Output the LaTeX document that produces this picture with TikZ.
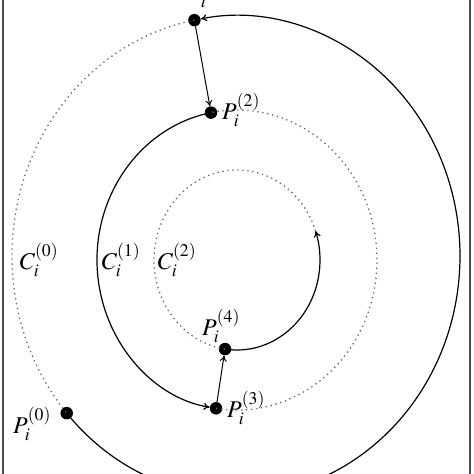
\documentclass[tikz,border=0pt]{standalone}
\usepackage{mathptmx}
\usetikzlibrary{arrows.meta}
\begin{document}
\begin{tikzpicture}[x=1pt,y=1pt,
  dot/.style={circle,fill=black,inner sep=0pt,minimum size=12.5pt},
  solidarc/.style={draw=black,line width=1.2pt},
  dotarc/.style={draw=black!60,line width=1.3pt,dash pattern=on 1.3pt off 3.7pt},
  arr/.style={-{To[length=6pt,width=7pt]}},
  lbl/.style={inner sep=0pt,font=\fontsize{24}{28}\selectfont},
  border/.style={draw=black!70,line width=2pt}]
\useasboundingbox (0,0) rectangle (474,474);
\clip (0,0) rectangle (474,474);
% dots
\node[dot] (P0) at ([shift={(236,218)}]220.9:224 and 240) {};
\node[dot] (P1) at ([shift={(236,218)}]100.7:224 and 240) {};
\node[dot] (P2) at ([shift={(237,214)}]100.7:140 and 150) {};
\node[dot] (P3) at ([shift={(237,214)}]261.4:140 and 150) {};
\node[dot] (P4) at ([shift={(237,214)}]261.7:83 and 90) {};
\coordinate (E) at ([shift={(237,214)}]18.7:83 and 90);
% outer curve C0
\draw[dotarc] (P1.center) arc[start angle=100.7,end angle=220.9,x radius=224,y radius=240];
\draw[solidarc,arr,shorten >=6.5pt] (P0.center) arc[start angle=220.9,end angle=460.7,x radius=224,y radius=240];
% middle curve C1
\draw[solidarc,arr,shorten >=6.5pt] (P2.center) arc[start angle=100.7,end angle=261.4,x radius=140,y radius=150];
\draw[dotarc] (P3.center) arc[start angle=261.4,end angle=460.7,x radius=140,y radius=150];
% inner curve C2
\draw[dotarc] (E) arc[start angle=18.7,end angle=261.7,x radius=83,y radius=90];
\draw[solidarc,arr] (P4.center) arc[start angle=261.7,end angle=378.7,x radius=83,y radius=90];
% jumps
\draw[black,line width=1pt,arr] (P1) -- (P2);
\draw[black,line width=1pt,arr] (P3) -- (P4);
% labels
\node[lbl] (L0) at (32,50) {$P_i^{(0)}$};
\node[lbl] (L1) at (208,483) {$P_i^{(1)}$};
\node[lbl] (L2) at (241,364) {$P_i^{(2)}$};
\node[lbl] (L3) at (246,66) {$P_i^{(3)}$};
\node[lbl] (L4) at (221,148) {$P_i^{(4)}$};
\node[lbl] (K0) at (39,214) {$C_i^{(0)}$};
\node[lbl] (K1) at (121,214) {$C_i^{(1)}$};
\node[lbl] (K2) at (177,214) {$C_i^{(2)}$};
% frame lines
\draw[border] (2.5,0) -- (2.5,474);
\draw[border] (469.5,0) -- (469.5,474);
\end{tikzpicture}
\end{document}
